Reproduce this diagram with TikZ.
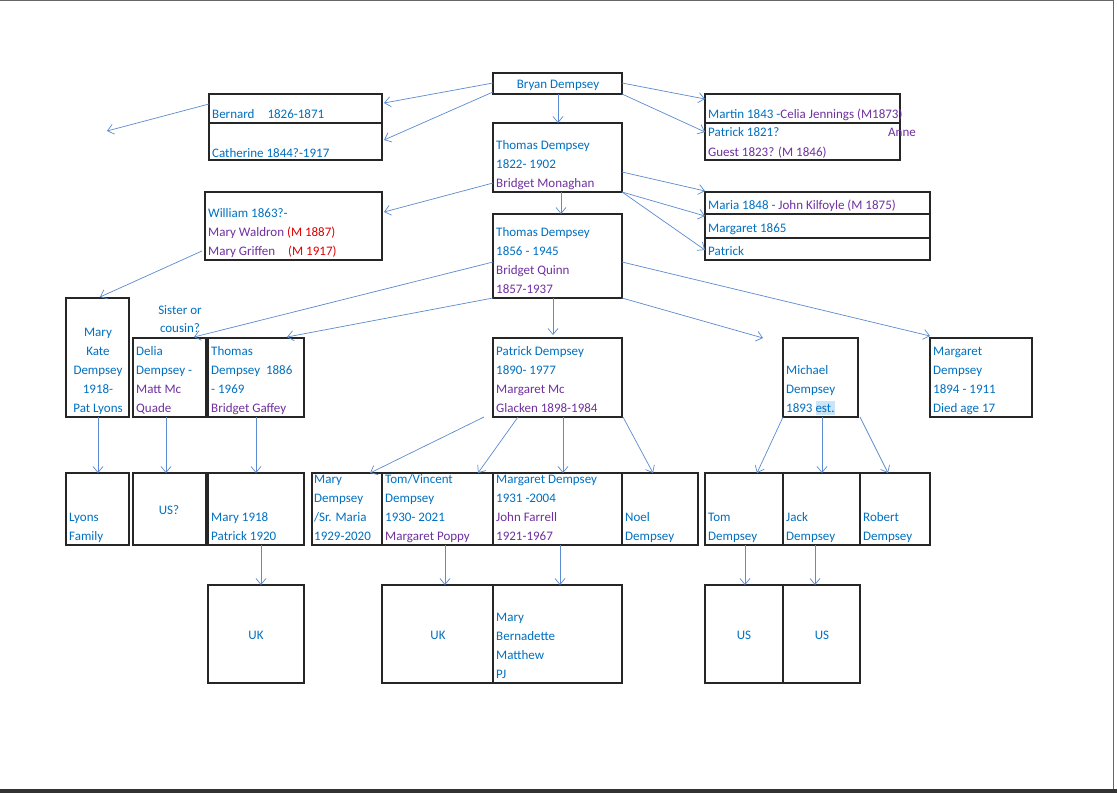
\documentclass[tikz,border=0pt]{standalone}
\usepackage{fontspec}
\setmainfont{Carlito}
\usetikzlibrary{arrows.meta}
\definecolor{tb}{HTML}{0070C0}
\definecolor{tp}{HTML}{7030A0}
\definecolor{tr}{HTML}{E00000}
\definecolor{ac}{HTML}{5B8BD0}
\definecolor{hl}{HTML}{CCE4F7}
\tikzset{
 box/.style={draw=black!85,line width=1.3pt},
 arr/.style={draw=ac,line width=0.7pt,-{Straight Barb[length=6pt,width=10pt]}},
 t/.style={anchor=base west,inner sep=0pt,font=\fontsize{13}{15}\selectfont,text=tb},
 tc/.style={t,anchor=base},
}
\newcommand\bx[5]{\draw[box] (#2,#3) rectangle (#4,#5); \coordinate (#1) at (#2,#3);}
\begin{document}
\begin{tikzpicture}[x=1pt,y=-1pt]
\useasboundingbox (0,0) rectangle (1117,793);
\fill[white] (0,0) rectangle (1117,793);
\draw[black!60,line width=0.6pt] (0,0.5) -- (1113,0.5) -- (1113,793);
\fill[black!80] (0,789) rectangle (1117,793);
% boxes
\bx{bryan}{493}{73}{622}{94}
\bx{bern}{209}{94}{382}{160} \draw[box] (209,123)--(382,123);
\bx{t22}{493}{123}{622}{192}
\bx{mart}{705}{94}{900}{160} \draw[box] (705,123)--(900,123);
\bx{mar}{705}{192}{930}{260} \draw[box] (705,214)--(930,214) (705,238)--(930,238);
\bx{will}{205}{192}{382}{260}
\bx{t56}{493}{214}{622}{298}
\bx{mk}{66}{298}{129}{417}
\bx{del}{133}{338}{206}{417}
\bx{t86}{208}{338}{304}{417}
\bx{p90}{493}{338}{622}{417}
\bx{mic}{783}{338}{858}{417}
\bx{m94}{930}{338}{1032}{417}
\bx{ly}{66}{473}{129}{545}
\bx{us}{133}{473}{206}{545}
\bx{m18}{208}{473}{304}{545}
\bx{r3}{312}{473}{698}{545} \draw[box] (382,473)--(382,545) (493,473)--(493,545) (622,473)--(622,545);
\bx{r3b}{705}{473}{930}{545} \draw[box] (783,473)--(783,545) (860,473)--(860,545);
\bx{uk1}{208}{585}{304}{683}
\bx{uk2}{382}{585}{622}{683} \draw[box] (493,585)--(493,683);
\bx{us2}{705}{585}{860}{683} \draw[box] (783,585)--(783,683);
% texts
\node[tc] (tbry) at (558,88) {Bryan Dempsey};
\node[t] (tbe) at (212,118) {Bernard\quad 1826-1871};
\node[t] (tca) at (212,157) {Catherine 1844?-1917};
\node[t] (tt1) at (496,149) {Thomas Dempsey};
\node[t] (tt2) at (496,168) {1822- 1902};
\node[t,text=tp] (tt3) at (496,187) {Bridget Monaghan};
\node[t] (tma) at (708,118) {Martin 1843 -\textcolor{tp}{Celia Jennings (M1873)}};
\node[t] (tpa) at (708,136) {Patrick 1821?};
\node[t,anchor=base east,text=tp] (tan) at (916,136) {Anne};
\node[t,text=tp] (tgu) at (708,156) {Guest 1823? (M 1846)};
\node[t] (tmr) at (708,209) {Maria 1848 - \textcolor{tp}{John Kilfoyle (M 1875)}};
\node[t] (tmg) at (708,232) {Margaret 1865};
\node[t] (tpt) at (708,255) {Patrick};
\node[t] (tw1) at (208,217) {William 1863?-};
\node[t,text=tp] (tw2) at (208,236) {Mary Waldron \textcolor{tr}{(M 1887)}};
\node[t,text=tp] (tw3) at (208,255) {Mary Griffen\quad\textcolor{tr}{(M 1917)}};
\node[t] (tq1) at (496,236) {Thomas Dempsey};
\node[t] (tq2) at (496,255) {1856 - 1945};
\node[t,text=tp] (tq3) at (496,274) {Bridget Quinn};
\node[t,text=tp] (tq4) at (496,293) {1857-1937};
\node[tc] (mk1) at (98,336) {Mary};
\node[tc] (mk2) at (98,355) {Kate};
\node[tc] (mk3) at (98,374) {Dempsey};
\node[tc] (mk4) at (98,393) {1918-};
\node[tc] (mk5) at (98,412) {Pat Lyons};
\node[tc] (sc1) at (180,314) {Sister or};
\node[tc] (sc2) at (180,332) {cousin?};
\node[t] (d1) at (136,355) {Delia};
\node[t] (d2) at (136,374) {Dempsey -};
\node[t,text=tp] (d3) at (136,393) {Matt Mc};
\node[t,text=tp] (d4) at (136,412) {Quade};
\node[t] (e1) at (211,355) {Thomas};
\node[t] (e2) at (211,374) {Dempsey\ \ 1886};
\node[t] (e3) at (211,393) {- 1969};
\node[t,text=tp] (e4) at (211,412) {Bridget Gaffey};
\node[t] (p1) at (496,355) {Patrick Dempsey};
\node[t] (p2) at (496,374) {1890- 1977};
\node[t,text=tp] (p3) at (496,393) {Margaret Mc};
\node[t,text=tp] (p4) at (496,412) {Glacken 1898-1984};
\node[t] (mi1) at (786,374) {Michael};
\node[t] (mi2) at (786,393) {Dempsey};
\node[t] (mi3) at (786,412) {1893 \colorbox{hl}{\kern-3pt est.\kern-3pt}};
\node[t] (g1) at (933,355) {Margaret};
\node[t] (g2) at (933,374) {Dempsey};
\node[t] (g3) at (933,393) {1894 - 1911};
\node[t] (g4) at (933,412) {Died age 17};
\node[t] (l1) at (69,521) {Lyons};
\node[t] (l2) at (69,540) {Family};
\node[tc] (u1) at (169,514) {US?};
\node[t] (h1) at (211,521) {Mary 1918};
\node[t] (h2) at (211,540) {Patrick 1920};
\node[t] (md1) at (314,483) {Mary};
\node[t] (md2) at (314,502) {Dempsey};
\node[t] (md3) at (314,521) {/Sr. Maria};
\node[t] (md4) at (314,540) {1929-2020};
\node[t] (tv1) at (385,483) {Tom/Vincent};
\node[t] (tv2) at (385,502) {Dempsey};
\node[t] (tv3) at (385,521) {1930- 2021};
\node[t,text=tp] (tv4) at (385,540) {Margaret Poppy};
\node[t] (mf1) at (496,483) {Margaret Dempsey};
\node[t] (mf2) at (496,502) {1931 -2004};
\node[t,text=tp] (mf3) at (496,521) {John Farrell};
\node[t,text=tp] (mf4) at (496,540) {1921-1967};
\node[t] (n1) at (625,521) {Noel};
\node[t] (n2) at (625,540) {Dempsey};
\node[t] (to1) at (708,521) {Tom};
\node[t] (to2) at (708,540) {Dempsey};
\node[t] (j1) at (786,521) {Jack};
\node[t] (j2) at (786,540) {Dempsey};
\node[t] (r1) at (863,521) {Robert};
\node[t] (r2) at (863,540) {Dempsey};
\node[tc] (k1) at (256,639) {UK};
\node[tc] (k2) at (438,639) {UK};
\node[t] (b1) at (496,621) {Mary};
\node[t] (b2) at (496,640) {Bernadette};
\node[t] (b3) at (496,659) {Matthew};
\node[t] (b4) at (496,678) {PJ};
\node[tc] (s1) at (744,639) {US};
\node[tc] (s2) at (822,639) {US};
% arrows
\draw[arr] (493,83)--(384,103);
\draw[arr] (493,92)--(384,140);
\draw[arr] (209,104)--(107,131);
\draw[arr] (558,94)--(558,123);
\draw[arr] (622,83)--(705,99);
\draw[arr] (622,94)--(705,132);
\draw[arr] (493,183)--(384,212);
\draw[arr] (561,192)--(561,214);
\draw[arr] (622,172)--(705,191);
\draw[arr] (622,192)--(705,216);
\draw[arr] (622,192)--(705,250);
\draw[arr] (202,251)--(100,297);
\draw[arr] (493,262)--(194,337);
\draw[arr] (493,298)--(287,337);
\draw[arr] (553,298)--(553,335);
\draw[arr] (622,298)--(763,338);
\draw[arr] (622,262)--(930,336);
\draw[arr] (98,417)--(98,473);
\draw[arr] (166,417)--(166,473);
\draw[arr] (256,417)--(256,473);
\draw[arr] (484,417)--(370,473);
\draw[arr] (518,417)--(478,473);
\draw[arr] (563,417)--(563,473);
\draw[arr] (623,417)--(653,473);
\draw[arr] (783,417)--(757,473);
\draw[arr] (822,417)--(822,473);
\draw[arr] (860,417)--(888,473);
\draw[arr] (261,545)--(261,585);
\draw[arr] (445,545)--(445,585);
\draw[arr] (560,545)--(560,585);
\draw[arr] (745,545)--(745,585);
\draw[arr] (815,545)--(815,585);
\end{tikzpicture}
\end{document}
